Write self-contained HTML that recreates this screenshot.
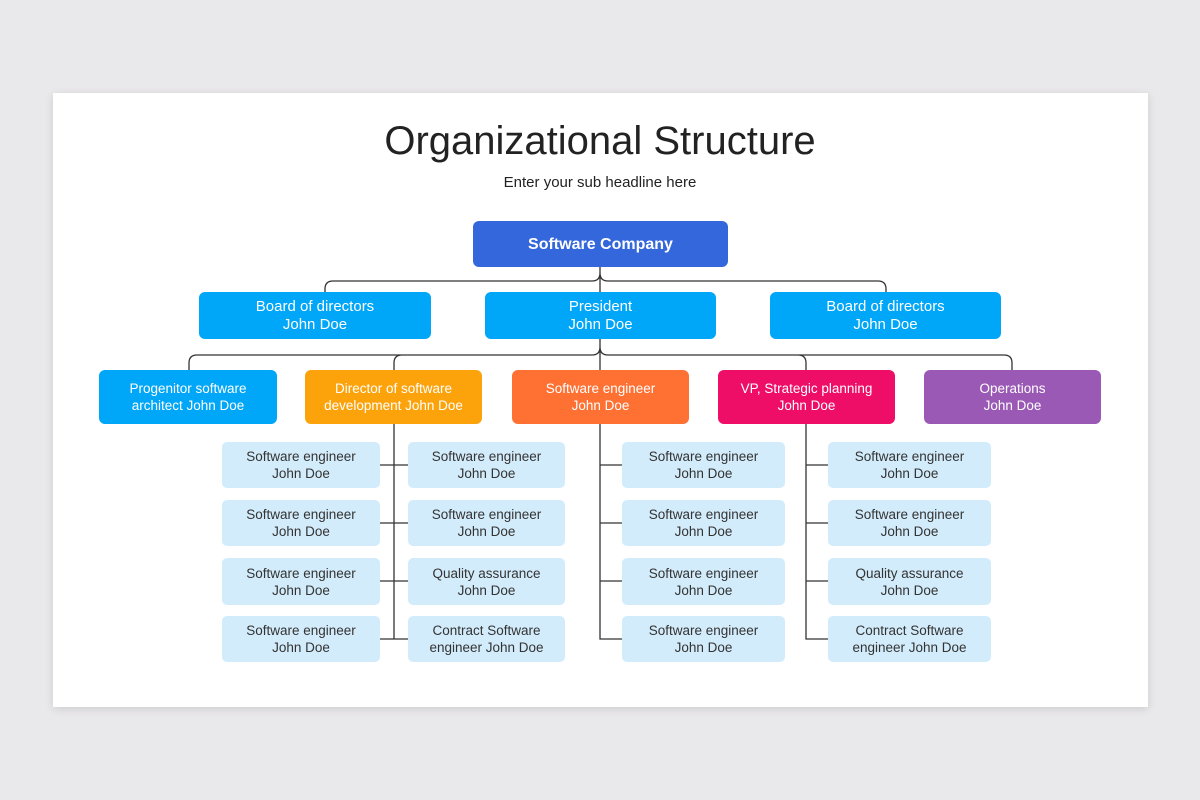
<!DOCTYPE html>
<html><head><style>
body{margin:0;width:1200px;height:800px;background:#e9e8ea;font-family:"Liberation Sans",sans-serif;position:relative;overflow:hidden}
.card{position:absolute;left:53px;top:93px;width:1095px;height:614px;background:#fff;box-shadow:0 2px 8px rgba(0,0,0,.12)}
.b{position:absolute;display:flex;align-items:center;justify-content:center;text-align:center;color:#fff;border-radius:6px;line-height:17px}
.l1{font-size:15px;line-height:18px}
.l2{font-size:13.5px}
.lf{background:#d3ecfb;color:#333;font-size:13.5px;border-radius:5px}
svg{position:absolute;left:0;top:0}
</style></head><body>
<div class="card"></div>
<div style="position:absolute;left:0;width:1200px;top:119px;text-align:center;font-size:40px;color:#222">Organizational Structure</div>
<div style="position:absolute;left:0;width:1200px;top:174px;text-align:center;font-size:15px;color:#222">Enter your sub headline here</div>
<svg width="1200" height="800" fill="none" stroke="#333" stroke-width="1.3">
<path d="M600 267V281M325 292V289Q325 281 333 281H592Q600 281 600 273Q600 281 608 281H878Q886 281 886 289V292M600 281V292"/>
<path d="M600 339V355M189 370V363Q189 355 197 355H592Q600 355 600 347Q600 355 608 355H1004Q1012 355 1012 363V370M394 370V363Q394 355 402 355M806 370V363Q806 355 798 355M600 355V370"/>
<path d="M394 424V639M380 465H408M380 523H408M380 581H408M380 639H408"/>
<path d="M600 424V639H622M600 465H622M600 523H622M600 581H622"/>
<path d="M806 424V639H828M806 465H828M806 523H828M806 581H828"/>
</svg>
<div class="b" style="left:473px;top:221px;width:255px;height:46px;background:#3567dc;font-weight:bold;font-size:16px">Software Company</div>
<div class="b l1" style="left:199px;top:292px;width:232px;height:47px;background:#00a6f8">Board of directors<br>John Doe</div>
<div class="b l1" style="left:485px;top:292px;width:231px;height:47px;background:#00a6f8">President<br>John Doe</div>
<div class="b l1" style="left:770px;top:292px;width:231px;height:47px;background:#00a6f8">Board of directors<br>John Doe</div>
<div class="b l2" style="left:99px;top:370px;width:178px;height:54px;background:#00a6f8">Progenitor software<br>architect John Doe</div>
<div class="b l2" style="left:305px;top:370px;width:177px;height:54px;background:#fca30c">Director of software<br>development John Doe</div>
<div class="b l2" style="left:512px;top:370px;width:177px;height:54px;background:#ff7033">Software engineer<br>John Doe</div>
<div class="b l2" style="left:718px;top:370px;width:177px;height:54px;background:#ee0e67">VP, Strategic planning<br>John Doe</div>
<div class="b l2" style="left:924px;top:370px;width:177px;height:54px;background:#9b59b6">Operations<br>John Doe</div>

<div class="b lf" style="left:222px;top:442px;width:158px;height:46px">Software engineer<br>John Doe</div>
<div class="b lf" style="left:222px;top:500px;width:158px;height:46px">Software engineer<br>John Doe</div>
<div class="b lf" style="left:222px;top:558px;width:158px;height:47px">Software engineer<br>John Doe</div>
<div class="b lf" style="left:222px;top:616px;width:158px;height:46px">Software engineer<br>John Doe</div>

<div class="b lf" style="left:408px;top:442px;width:157px;height:46px">Software engineer<br>John Doe</div>
<div class="b lf" style="left:408px;top:500px;width:157px;height:46px">Software engineer<br>John Doe</div>
<div class="b lf" style="left:408px;top:558px;width:157px;height:47px">Quality assurance<br>John Doe</div>
<div class="b lf" style="left:408px;top:616px;width:157px;height:46px">Contract Software<br>engineer John Doe</div>

<div class="b lf" style="left:622px;top:442px;width:163px;height:46px">Software engineer<br>John Doe</div>
<div class="b lf" style="left:622px;top:500px;width:163px;height:46px">Software engineer<br>John Doe</div>
<div class="b lf" style="left:622px;top:558px;width:163px;height:47px">Software engineer<br>John Doe</div>
<div class="b lf" style="left:622px;top:616px;width:163px;height:46px">Software engineer<br>John Doe</div>

<div class="b lf" style="left:828px;top:442px;width:163px;height:46px">Software engineer<br>John Doe</div>
<div class="b lf" style="left:828px;top:500px;width:163px;height:46px">Software engineer<br>John Doe</div>
<div class="b lf" style="left:828px;top:558px;width:163px;height:47px">Quality assurance<br>John Doe</div>
<div class="b lf" style="left:828px;top:616px;width:163px;height:46px">Contract Software<br>engineer John Doe</div>
</body></html>
